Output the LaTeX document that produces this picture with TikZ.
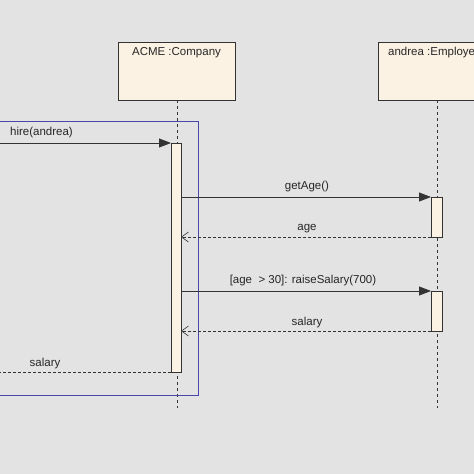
\documentclass[tikz,border=0pt]{standalone}
\usepackage{fontspec}
\setmainfont{Liberation Sans}
\usetikzlibrary{arrows.meta}
\definecolor{bg}{HTML}{E3E3E3}
\definecolor{box}{HTML}{FCF2E4}
\definecolor{frm}{HTML}{4848A8}
\begin{document}
\begin{tikzpicture}[x=1pt,y=-1pt,
  obj/.style={draw=black!80,fill=box,line width=0.8pt},
  life/.style={draw=black!80,dash pattern=on 3pt off 3pt,line width=0.8pt},
  act/.style={draw=black!80,fill=box,line width=0.8pt},
  call/.style={draw=black!80,line width=0.8pt,-{Triangle[length=12pt,width=9pt]}},
  ret/.style={draw=black!80,line width=0.6pt,dash pattern=on 3pt off 2pt,-{Straight Barb[length=7pt,width=10pt]}},
  lbl/.style={font=\fontsize{11.5}{13}\selectfont,text=black!85,inner sep=1pt}]
\fill[bg] (0,0) rectangle (474,474);
\clip (0,0) rectangle (474,474);
\useasboundingbox (0,0) rectangle (474,474);
% objects
\draw[obj] (118,42) rectangle (235,100);
\node[lbl] (cn) at (176.5,53) {ACME :Company};
\draw[obj] (378,42) rectangle (490,100);
\node[lbl,anchor=west] (en) at (387,53) {andrea :Employee};
\coordinate (c0) at (177,100); \coordinate (c1) at (177,408);
\coordinate (e0) at (437,100); \coordinate (e1) at (437,408);
\draw[life] (c0) -- (c1);
\draw[life] (e0) -- (e1);
% frame
\draw[frm,line width=0.8pt] (-5,121) rectangle (198,395);
% activations
\draw[act] (171,143) rectangle (181,372);
\draw[act] (431,197) rectangle (442,237);
\draw[act] (431,291) rectangle (442,331);
% coordinates
\coordinate (l1) at (-2,143); \coordinate (a1) at (171,143);
\coordinate (s2) at (181,197); \coordinate (t2) at (431,197);
\coordinate (s3) at (431,237); \coordinate (t3) at (181,237);
\coordinate (s4) at (181,291); \coordinate (t4) at (431,291);
\coordinate (s5) at (431,331); \coordinate (t5) at (181,331);
\coordinate (s6) at (171,372); \coordinate (l6) at (-2,372);
\draw[call] (l1) -- (a1);
\node[lbl,anchor=west] (m1) at (9,133) {hire(andrea)};
\draw[call] (s2) -- (t2);
\node[lbl] (m2) at (307,187) {getAge()};
\draw[ret] (s3) -- (t3);
\node[lbl] (m3) at (307,229) {age};
\draw[call] (s4) -- (t4);
\node[lbl] (m4) at (303,281) {[age\ \ > 30]: raiseSalary(700)};
\draw[ret] (s5) -- (t5);
\node[lbl] (m5) at (307,323) {salary};
\draw[ret,-] (s6) -- (l6);
\node[lbl] (m6) at (45,364) {salary};
\end{tikzpicture}
\end{document}
